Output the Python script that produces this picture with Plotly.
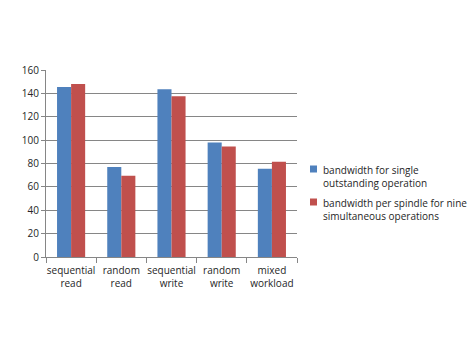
import plotly.graph_objects as go

categories = ["sequential<br>read", "random<br>read", "sequential<br>write", "random<br>write", "mixed<br>workload"]
single_op = [145.5, 77, 143.5, 98, 75.5]
nine_ops = [148, 69.5, 137.5, 94.5, 81.5]
series_names = ["bandwidth for single<br>outstanding operation",
                "bandwidth per spindle for nine<br>simultaneous operations"]
colors = ["#4F81BD", "#C0504D"]
y_ticks = [0, 20, 40, 60, 80, 100, 120, 140, 160]

fig = go.Figure()
for vals, col, name in zip([single_op, nine_ops], colors, series_names):
    fig.add_trace(go.Bar(x=categories, y=vals, name=name.replace("<br>", " "),
                         marker=dict(color=col, line=dict(width=0)), showlegend=False))

# manual legend (plot area spans 46..297 px horizontally, 70..257 px vertically)
PL, PW, PB, PH = 46, 251, 257, 187
def px_x(p):
    return (p - PL) / PW
def px_y(p):
    return (PB - p) / PH

legend_font = dict(family="Open Sans, sans-serif", size=10, color="#262626")
for i, (name, col) in enumerate(zip(series_names, colors)):
    first_line_y = 169 + 33 * i
    fig.add_shape(type="rect", xref="paper", yref="paper",
                  x0=px_x(310), x1=px_x(317), y0=px_y(first_line_y - 3.5), y1=px_y(first_line_y + 3.5),
                  fillcolor=col, line=dict(width=0))
    fig.add_annotation(xref="paper", yref="paper", x=px_x(321), y=px_y(first_line_y + 7),
                       xanchor="left", yanchor="middle", align="left", showarrow=False,
                       text=name, font=legend_font)

font = dict(family="Open Sans, sans-serif", size=10, color="#262626")
fig.update_layout(
    width=474, height=338,
    margin=dict(l=46, r=177, t=70, b=81),
    paper_bgcolor="white", plot_bgcolor="white",
    barmode="group", bargap=0.44, bargroupgap=0,
    font=font, showlegend=False,
)
fig.update_xaxes(showline=True, linecolor="#868686", linewidth=1, tickangle=0,
                 ticks="outside", ticklen=5, tickcolor="#868686", tickson="boundaries",
                 ticklabelstandoff=4, showgrid=False)
fig.update_yaxes(range=[0, 160], tickvals=y_ticks, showline=True, linecolor="#868686",
                 linewidth=1, ticks="outside", ticklen=4, tickcolor="#868686",
                 showgrid=True, gridcolor="#868686", gridwidth=1, zeroline=False)
fig.write_html("out.html")
